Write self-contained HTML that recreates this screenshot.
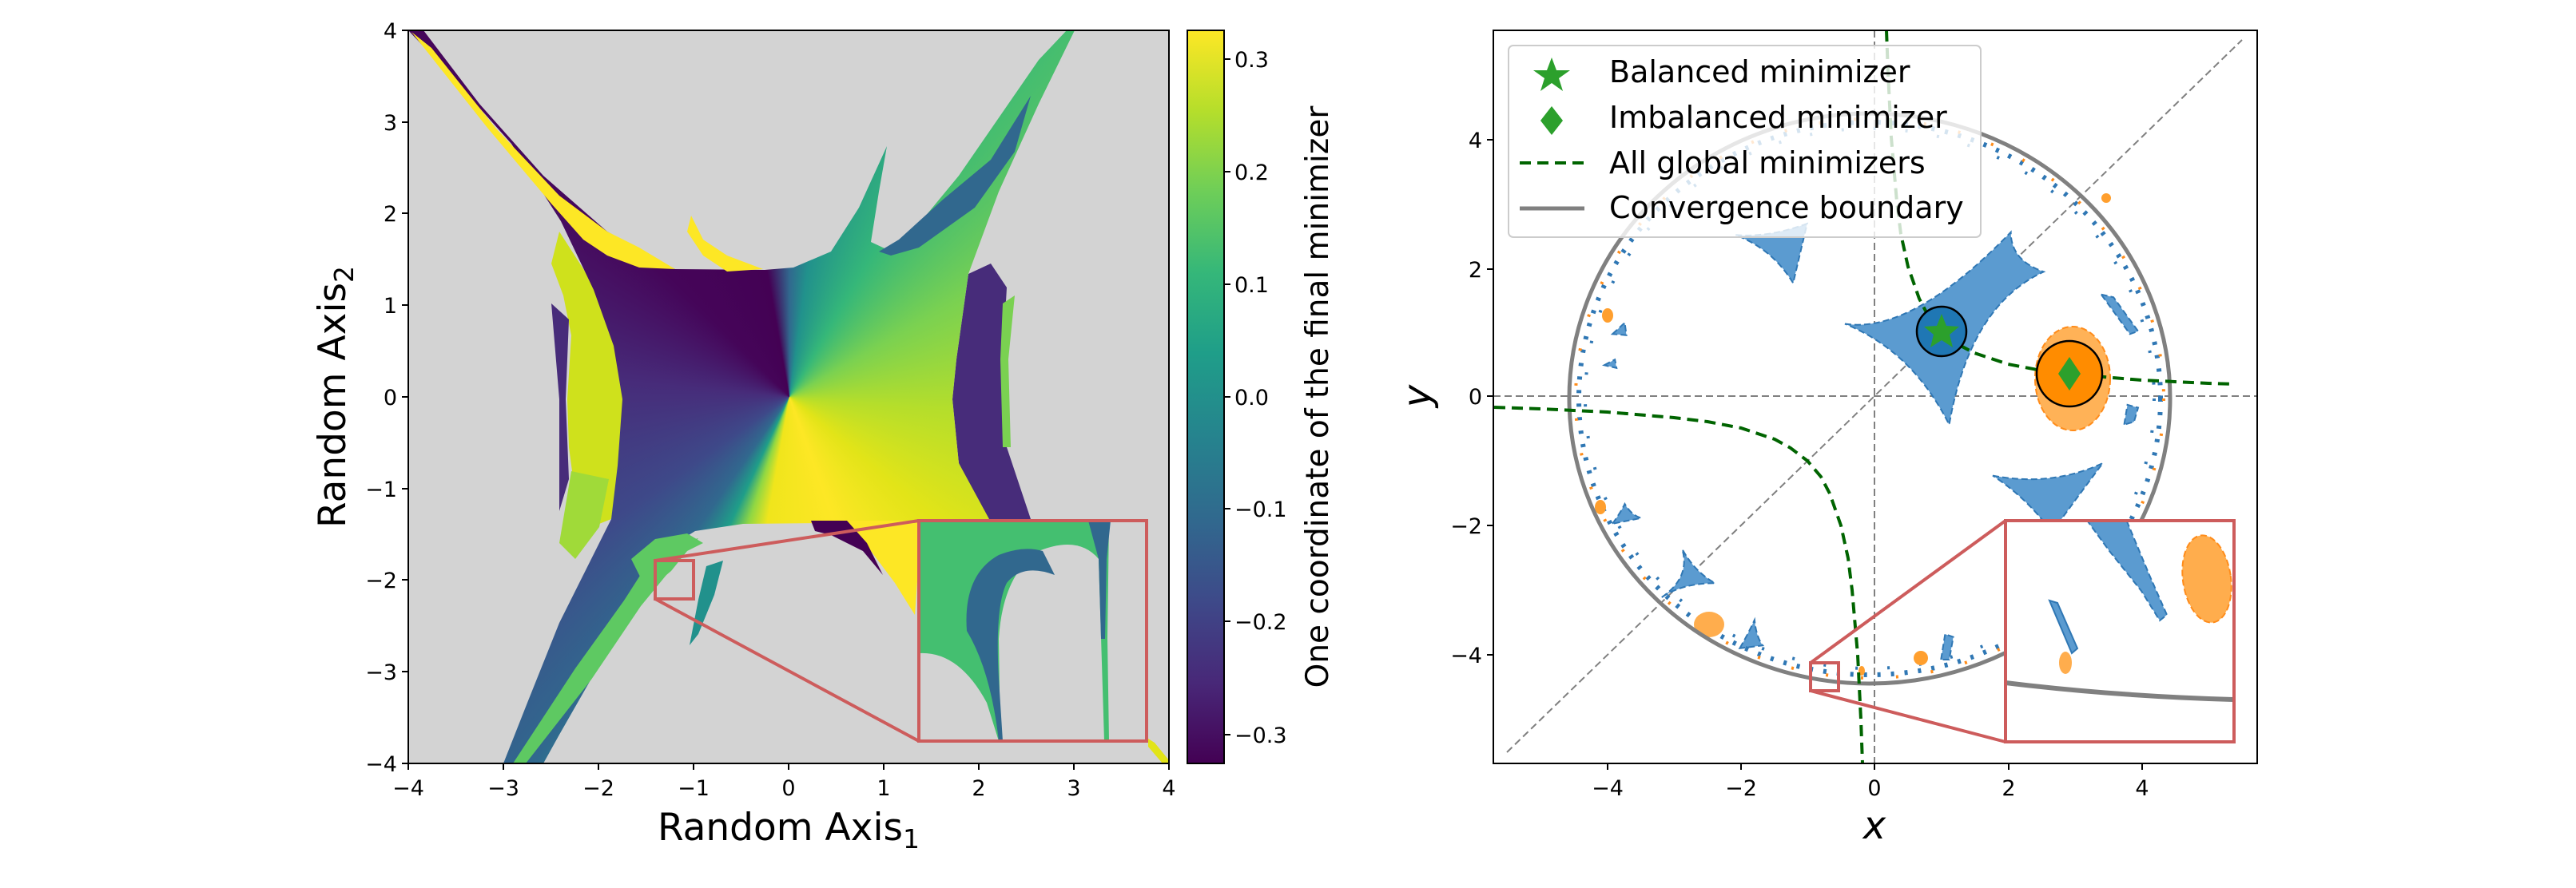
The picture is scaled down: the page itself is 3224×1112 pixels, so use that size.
<!DOCTYPE html>
<html><head><meta charset="utf-8"><style>
html,body{margin:0;padding:0;background:#fff;}
body{width:3224px;height:1112px;position:relative;overflow:hidden;font-family:"DejaVu Sans","Liberation Sans",sans-serif;}
svg{position:absolute;left:0;top:0;}
#conic{position:absolute;left:0;top:0;width:3224px;height:1112px;
background:conic-gradient(from -10deg at 988px 497px,#440154 0deg,#31688e 10deg,#21918c 18deg,#35b779 40deg,#7ad151 70deg,#b5de2b 105deg,#e2e418 140deg,#fde725 170deg,#f0e51c 200deg,#90d743 208deg,#1f9e89 215deg,#31688e 225deg,#3e4989 245deg,#472c7a 285deg,#450559 325deg,#440154 360deg);
clip-path:polygon(511px 38px,530px 38px,600px 130px,680px 220px,760px 290px,845px 337px,957px 338px,993px 335px,1040px 315px,1075px 260px,1110px 183px,1100px 240px,1090px 303px,1120px 317px,1200px 220px,1300px 75px,1335px 38px,1345px 38px,1300px 130px,1250px 240px,1212px 343px,1197px 450px,1192px 500px,1200px 580px,1238px 650px,1200px 656px,1130px 660px,1030px 655px,930px 656px,870px 665px,830px 690px,790px 750px,740px 850px,700px 920px,680px 956px,630px 956px,660px 880px,700px 780px,740px 700px,765px 650px,773px 583px,779px 500px,768px 433px,743px 363px,702px 277px,640px 180px,560px 90px);}
</style></head><body>
<svg width="3224" height="1112">
<rect x="511" y="38" width="952" height="918" fill="#d3d3d3"/>
<polygon points="700,290 745,360 770,433 781,500 775,583 765,650 740,660 720,620 712,560 710,500 715,420 705,370 690,330" fill="#cfe11c"/>
<polygon points="690,380 712,400 708,500 712,600 700,640 700,500" fill="#472c7a"/>
<polygon points="715,590 762,600 750,660 720,700 700,680" fill="#a0da39"/>
<polygon points="1212,343 1240,330 1260,360 1255,450 1260,560 1290,650 1238,660 1200,580 1192,500 1197,450" fill="#472c7a"/>
<polygon points="1255,380 1270,370 1262,450 1265,560 1255,560 1252,450" fill="#7ad151"/>
</svg>
<div id="conic"></div>
<svg width="3224" height="1112">
<polygon points="515,40 540,60 620,160 700,245 760,290 800,310 845,337 800,335 760,320 730,300 690,255 610,160" fill="#fde725"/>
<polygon points="865,270 880,300 910,320 955,337 910,340 880,320 860,290" fill="#fde725"/>
<polygon points="1100,315 1125,300 1180,250 1240,200 1290,120 1270,190 1220,260 1150,310 1115,320" fill="#31688e"/>
<polygon points="822,688 874,674 843,709 802,759 740,851 658,956 642,956 720,837 781,752" fill="#5ec962"/>
<polygon points="790,700 820,675 860,668 880,680 860,690 840,715 810,740" fill="#5ec962"/>
<polygon points="884,709 905,702 894,745 874,794 863,808 874,751" fill="#21918c"/>
<polygon points="1060,652 1150,652 1150,700 1145,770 1120,730 1090,690" fill="#fde725"/>
<polygon points="1015,652 1060,652 1085,680 1105,720 1080,690 1040,670 1020,665" fill="#440154"/>
<polygon points="1437,925 1445,930 1463,952 1463,956 1455,956 1437,935" fill="#e2e418"/>
<rect x="1150" y="652" width="285" height="276" fill="#44bf70"/>
<path d="M1150,818 Q1200,815 1235,880 L1250,928 L1150,928Z" fill="#d3d3d3"/>
<path d="M1252,928 L1250,800 Q1255,720 1300,690 Q1350,670 1375,700 L1382,928Z" fill="#d3d3d3"/>
<path d="M1388,652 L1435,652 L1435,928 L1388,928 L1386,800Z" fill="#d3d3d3"/>
<path d="M1210,790 Q1205,720 1250,695 Q1280,683 1305,690 L1320,720 Q1280,705 1260,730 Q1245,760 1250,850 L1255,928 L1250,928 Q1240,840 1210,790Z" fill="#31688e"/>
<path d="M1362,652 L1390,652 L1385,700 L1383,800 L1378,800 L1375,700Z" fill="#31688e"/>
<rect x="1150" y="652" width="285" height="276" fill="none" stroke="#cd5c5c" stroke-width="4"/>
<rect x="820" y="702" width="48" height="48" fill="none" stroke="#cd5c5c" stroke-width="4"/>
<line x1="820" y1="702" x2="1150" y2="652" stroke="#cd5c5c" stroke-width="4"/>
<line x1="820" y1="750" x2="1150" y2="928" stroke="#cd5c5c" stroke-width="4"/>
<rect x="511" y="38" width="952" height="918" fill="none" stroke="#000" stroke-width="2"/>
<g stroke="#000" stroke-width="2">
<line x1="503" y1="38" x2="511" y2="38"/><line x1="503" y1="153" x2="511" y2="153"/><line x1="503" y1="267" x2="511" y2="267"/><line x1="503" y1="382" x2="511" y2="382"/><line x1="503" y1="497" x2="511" y2="497"/><line x1="503" y1="612" x2="511" y2="612"/><line x1="503" y1="726" x2="511" y2="726"/><line x1="503" y1="841" x2="511" y2="841"/><line x1="503" y1="956" x2="511" y2="956"/>
<line x1="511" y1="956" x2="511" y2="964"/><line x1="630" y1="956" x2="630" y2="964"/><line x1="749" y1="956" x2="749" y2="964"/><line x1="868" y1="956" x2="868" y2="964"/><line x1="987" y1="956" x2="987" y2="964"/><line x1="1106" y1="956" x2="1106" y2="964"/><line x1="1225" y1="956" x2="1225" y2="964"/><line x1="1344" y1="956" x2="1344" y2="964"/><line x1="1463" y1="956" x2="1463" y2="964"/>
</g>
<g font-size="27" text-anchor="end" fill="#000">
<text x="497" y="48">4</text><text x="497" y="163">3</text><text x="497" y="277">2</text><text x="497" y="392">1</text><text x="497" y="507">0</text><text x="497" y="622">−1</text><text x="497" y="736">−2</text><text x="497" y="851">−3</text><text x="497" y="966">−4</text>
</g>
<g font-size="27" text-anchor="middle" fill="#000">
<text x="511" y="996">−4</text><text x="630" y="996">−3</text><text x="749" y="996">−2</text><text x="868" y="996">−1</text><text x="987" y="996">0</text><text x="1106" y="996">1</text><text x="1225" y="996">2</text><text x="1344" y="996">3</text><text x="1463" y="996">4</text>
</g>
<text x="987" y="1052" font-size="47" text-anchor="middle">Random Axis<tspan font-size="33" dy="10">1</tspan></text>
<text transform="translate(432,497) rotate(-90)" font-size="47" text-anchor="middle">Random Axis<tspan font-size="33" dy="10">2</tspan></text>
<defs><linearGradient id="vir" x1="0" y1="0" x2="0" y2="1">
<stop offset="0" stop-color="#fde725"/><stop offset="0.11" stop-color="#b5de2b"/><stop offset="0.22" stop-color="#6ece58"/><stop offset="0.33" stop-color="#35b779"/><stop offset="0.44" stop-color="#1f9e89"/><stop offset="0.56" stop-color="#26828e"/><stop offset="0.67" stop-color="#31688e"/><stop offset="0.78" stop-color="#3e4989"/><stop offset="0.89" stop-color="#482878"/><stop offset="1" stop-color="#440154"/></linearGradient></defs>
<rect x="1486" y="38" width="46" height="918" fill="url(#vir)" stroke="#000" stroke-width="2"/>
<g stroke="#000" stroke-width="2"><line x1="1532" y1="74" x2="1540" y2="74"/><line x1="1532" y1="215" x2="1540" y2="215"/><line x1="1532" y1="356" x2="1540" y2="356"/><line x1="1532" y1="497" x2="1540" y2="497"/><line x1="1532" y1="637" x2="1540" y2="637"/><line x1="1532" y1="778" x2="1540" y2="778"/><line x1="1532" y1="920" x2="1540" y2="920"/></g>
<g font-size="27" fill="#000"><text x="1545" y="84">0.3</text><text x="1545" y="225">0.2</text><text x="1545" y="366">0.1</text><text x="1545" y="507">0.0</text><text x="1545" y="647">−0.1</text><text x="1545" y="788">−0.2</text><text x="1545" y="930">−0.3</text></g>
<text transform="translate(1662,497) rotate(-90)" font-size="39" text-anchor="middle">One coordinate of the final minimizer</text>

<line x1="2346" y1="38" x2="2346" y2="956" stroke="#808080" stroke-width="2" stroke-dasharray="9,5"/>
<line x1="1869" y1="496" x2="2825" y2="496" stroke="#808080" stroke-width="2" stroke-dasharray="9,5"/>
<line x1="1886" y1="942" x2="2806" y2="50" stroke="#808080" stroke-width="2" stroke-dasharray="9,5"/>
<g fill="#5b9bd0" stroke="#2f77b4" stroke-width="2" stroke-dasharray="8,4" transform="translate(1612,0) scale(1.028,0.709)">
<path vector-effect="non-scaling-stroke" d="M678,572 Q760,590 880,410 Q880,460 920,480 Q830,540 805,750 Q760,620 678,572Z"/>
<path vector-effect="non-scaling-stroke" d="M545,415 Q585,420 632,395 L615,500 Q590,440 545,415Z"/>
<path vector-effect="non-scaling-stroke" d="M858,840 Q930,860 992,818 Q960,880 930,940 Q900,880 858,840Z"/>
<path vector-effect="non-scaling-stroke" d="M455,1055 Q490,1020 480,970 Q495,1010 520,1030 Q480,1030 455,1055Z"/>
<path vector-effect="non-scaling-stroke" d="M550,1145 Q560,1120 568,1095 Q570,1125 578,1140Z"/>
<path vector-effect="non-scaling-stroke" d="M395,925 Q405,905 410,890 Q418,910 430,915Z"/>
<path vector-effect="non-scaling-stroke" d="M990,520 L1005,525 L1035,585 L1025,590Z"/>
<path vector-effect="non-scaling-stroke" d="M1018,750 L1022,715 L1035,720 L1030,745Z"/>
<path vector-effect="non-scaling-stroke" d="M795,1165 L800,1120 L810,1125 L805,1165Z"/>
<path vector-effect="non-scaling-stroke" d="M395,590 L410,570 L412,592Z"/>
<path vector-effect="non-scaling-stroke" d="M385,645 L398,635 L400,650Z"/>
</g>
<ellipse cx="2340" cy="499" rx="364" ry="346" fill="none" stroke="#2f77b4" stroke-width="6" stroke-dasharray="4,13"/>
<ellipse cx="2340" cy="499" rx="368" ry="350" fill="none" stroke="#ff8c1a" stroke-width="4" stroke-dasharray="3,41"/>
<ellipse cx="2340" cy="499" rx="356" ry="338" fill="none" stroke="#2f77b4" stroke-width="4" stroke-dasharray="3,37"/>
<g fill="#ff9f2e">
<ellipse cx="2139" cy="782" rx="19" ry="16" fill="#ffad4d"/><ellipse cx="2404" cy="824" rx="9" ry="9"/><ellipse cx="2003" cy="635" rx="7" ry="9"/><ellipse cx="2012" cy="395" rx="7" ry="9"/><ellipse cx="2636" cy="248" rx="6" ry="6"/><ellipse cx="2330" cy="840" rx="4" ry="6"/>
</g>
<ellipse cx="2594" cy="474" rx="47" ry="65" fill="#ffb257" stroke="#ff8c1a" stroke-width="2" stroke-dasharray="8,4"/>
<ellipse cx="2340" cy="499" rx="376" ry="357" fill="none" stroke="#808080" stroke-width="5"/>
<polyline fill="none" stroke="#006400" stroke-width="4" stroke-dasharray="14,8" points="2361,38 2363,91 2367,172 2374,253 2379,293 2388,334 2402,374 2413,395 2430,415 2450,431 2471,442 2513,456 2555,464 2597,469 2680,476 2764,480 2797,481"/>
<polyline fill="none" stroke="#006400" stroke-width="4" stroke-dasharray="14,8" points="1870,510 1928,512 2012,516 2095,523 2137,528 2179,536 2221,550 2241,561 2262,577 2279,597 2290,618 2304,658 2313,699 2318,739 2325,820 2329,901 2331,956"/>
<circle cx="2430" cy="415" r="31" fill="#1f77b4" stroke="#000" stroke-width="2.5"/>
<circle cx="2590" cy="468" r="41" fill="#ff8c00" stroke="#000" stroke-width="2.5"/>
<polygon points="2430,393 2436,408 2452,409 2440,419 2444,435 2430,426 2416,435 2420,419 2408,409 2424,408" fill="#2ca02c"/>
<polygon points="2590,447 2604,468 2590,489 2576,468" fill="#2ca02c"/>
<rect x="2510" y="652" width="286" height="277" fill="#fff"/>
<path d="M2613,653 L2662,653 L2690,720 L2712,770 L2703,777 L2680,740 L2640,690Z" fill="#5b9bd0" stroke="#2f77b4" stroke-width="2" stroke-dasharray="8,4"/>
<ellipse cx="2762" cy="725" rx="30" ry="55" transform="rotate(-8 2762 725)" fill="#ffad4d" stroke="#ff8c1a" stroke-width="2" stroke-dasharray="8,4"/>
<path d="M2565,752 L2575,755 L2600,812 L2593,818Z" fill="#5b9bd0" stroke="#2f77b4" stroke-width="2"/>
<ellipse cx="2585" cy="830" rx="8" ry="14" fill="#ffad4d"/>
<path d="M2510,855 Q2650,872 2796,876" fill="none" stroke="#808080" stroke-width="6"/>
<rect x="2510" y="652" width="286" height="277" fill="none" stroke="#cd5c5c" stroke-width="4"/>
<rect x="2266" y="830" width="35" height="35" fill="none" stroke="#cd5c5c" stroke-width="4"/>
<line x1="2266" y1="830" x2="2510" y2="652" stroke="#cd5c5c" stroke-width="4"/>
<line x1="2266" y1="865" x2="2510" y2="929" stroke="#cd5c5c" stroke-width="4"/>
<rect x="1888" y="57" width="591" height="240" rx="6" fill="#fff" fill-opacity="0.8" stroke="#ccc" stroke-width="2"/>
<polygon points="1942,72 1948,88 1965,88 1951,98 1956,114 1942,104 1928,114 1933,98 1919,88 1936,88" fill="#2ca02c"/>
<polygon points="1942,133 1956,151 1942,169 1928,151" fill="#2ca02c"/>
<line x1="1902" y1="204" x2="1983" y2="204" stroke="#006400" stroke-width="4" stroke-dasharray="14,8"/>
<line x1="1902" y1="261" x2="1983" y2="261" stroke="#808080" stroke-width="5"/>
<g font-size="38" fill="#000"><text x="2014" y="103">Balanced minimizer</text><text x="2014" y="160">Imbalanced minimizer</text><text x="2014" y="217">All global minimizers</text><text x="2014" y="273">Convergence boundary</text></g>
<rect x="1869" y="38" width="956" height="918" fill="none" stroke="#000" stroke-width="2"/>
<g stroke="#000" stroke-width="2">
<line x1="1861" y1="175" x2="1869" y2="175"/><line x1="1861" y1="337" x2="1869" y2="337"/><line x1="1861" y1="496" x2="1869" y2="496"/><line x1="1861" y1="658" x2="1869" y2="658"/><line x1="1861" y1="820" x2="1869" y2="820"/>
<line x1="2012" y1="956" x2="2012" y2="964"/><line x1="2179" y1="956" x2="2179" y2="964"/><line x1="2346" y1="956" x2="2346" y2="964"/><line x1="2514" y1="956" x2="2514" y2="964"/><line x1="2681" y1="956" x2="2681" y2="964"/>
</g>
<g font-size="27" text-anchor="end"><text x="1855" y="185">4</text><text x="1855" y="347">2</text><text x="1855" y="506">0</text><text x="1855" y="668">−2</text><text x="1855" y="830">−4</text></g>
<g font-size="27" text-anchor="middle"><text x="2012" y="996">−4</text><text x="2179" y="996">−2</text><text x="2346" y="996">0</text><text x="2514" y="996">2</text><text x="2681" y="996">4</text></g>
<text x="2346" y="1050" font-size="48" font-style="italic" text-anchor="middle">x</text>
<text transform="translate(1790,496) rotate(-90)" font-size="48" font-style="italic" text-anchor="middle">y</text>
</svg>
</body></html>
